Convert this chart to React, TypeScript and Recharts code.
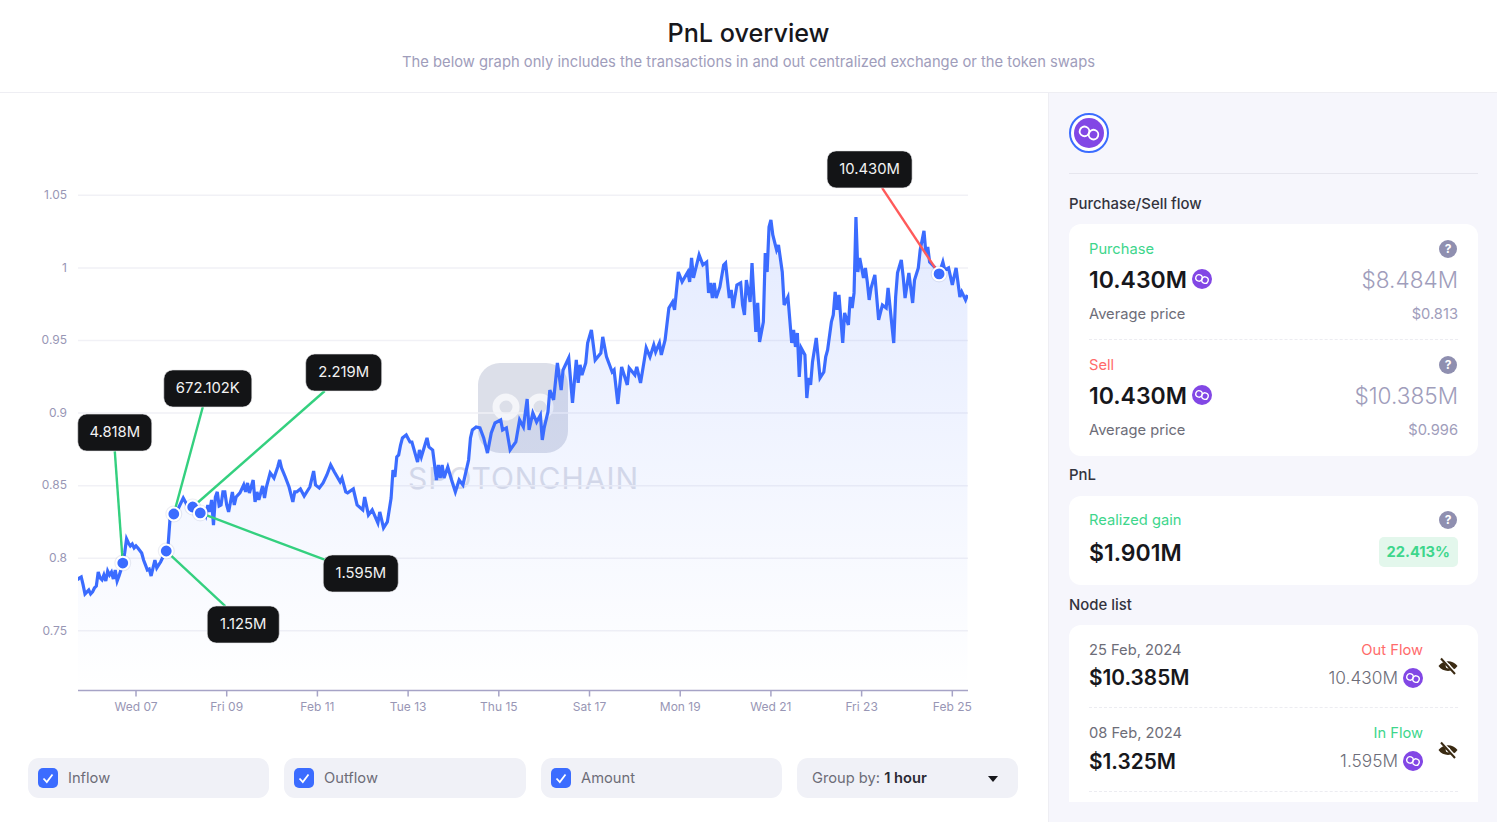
import { Area, CartesianGrid, ComposedChart, ReferenceDot, XAxis, YAxis } from 'recharts';

// hours counted from Wed 07 00:00, one entry per turning point
const hours = [
  -31, -30, -29, -28, -27, -25, -24, -23, -22, -21, -20, -19, -18, -17, -16, -15, -14, -13, -12, -11, -10, -9, -8, -7, -6, -5, -4, -3, -2, -1,
  0, 1, 3, 4, 5, 6, 7, 8, 9, 10, 11, 12, 13, 14, 15, 16, 17, 18, 19, 20, 22, 24, 25, 27, 30, 32, 34, 36, 37, 38,
  39, 40, 41, 42, 43, 44, 45, 46, 47, 48, 49, 51, 52, 53, 55, 57, 58, 59, 60, 62, 63, 64, 65, 67, 68, 69, 71, 73, 75, 76,
  77, 79, 81, 83, 84, 85, 87, 89, 92, 94, 95, 97, 99, 101, 103, 105, 108, 109, 111, 112, 115, 117, 120, 121, 123, 125, 128, 129, 131, 133,
  134, 135, 136, 137, 138, 139, 140, 141, 143, 145, 146, 149, 150, 151, 154, 155, 157, 159, 160, 161, 162, 163, 165, 167, 169, 171, 173, 176, 177, 178,
  180, 182, 184, 186, 188, 190, 193, 194, 196, 198, 201, 203, 205, 207, 208, 210, 212, 214, 215, 216, 218, 219, 221, 223, 225, 226, 229, 231, 233, 234,
  235, 236, 238, 239, 241, 243, 246, 247, 249, 252, 253, 255, 257, 260, 261, 264, 265, 267, 269, 270, 272, 274, 275, 277, 278, 280, 282, 284, 285, 287,
  289, 292, 293, 294, 295, 298, 300, 302, 303, 304, 305, 306, 307, 309, 311, 312, 314, 315, 316, 318, 320, 321, 322, 323, 325, 326, 328, 329, 330, 332,
  333, 334, 335, 336, 337, 339, 340, 342, 343, 345, 347, 348, 349, 350, 351, 352, 354, 355, 356, 357, 358, 360, 362, 364, 365, 366, 368, 369, 370, 371,
  372, 374, 375, 377, 378, 379, 380, 381, 382, 383, 385, 386, 387, 388, 389, 391, 393, 395, 397, 398, 401, 402, 403, 405, 406, 407, 409, 411, 412, 414,
  415, 417, 418, 419, 420, 423, 425, 427, 428, 430, 432, 434, 436, 437, 439, 440,
];

const prices = [
  0.7851, 0.7864, 0.7871, 0.7816, 0.7754, 0.7781, 0.7754, 0.7768, 0.7795, 0.7809, 0.7905, 0.7864, 0.7851, 0.7885, 0.7843, 0.7912, 0.7885, 0.7905, 0.7857, 0.7919, 0.7843, 0.7878, 0.7919, 0.7967, 0.8036, 0.8133, 0.8105, 0.8085, 0.8098, 0.8071,
  0.8085, 0.8071, 0.8036, 0.7988, 0.7954, 0.7919, 0.7926, 0.7878, 0.7933, 0.7988, 0.7933, 0.7954, 0.7974, 0.8002, 0.8029, 0.805, 0.8091, 0.8271, 0.8298, 0.8305, 0.8333, 0.8388, 0.8415, 0.8367, 0.8353, 0.8346, 0.8312, 0.8333, 0.8298, 0.8367,
  0.8319, 0.8402, 0.8229, 0.8422, 0.8457, 0.836, 0.8367, 0.8457, 0.8457, 0.8367, 0.8319, 0.8457, 0.8367, 0.8422, 0.845, 0.8505, 0.8457, 0.8519, 0.845, 0.8539, 0.8388, 0.8457, 0.8402, 0.8498, 0.8415, 0.8491, 0.8588, 0.8553, 0.8629, 0.8677,
  0.8622, 0.856, 0.8491, 0.8388, 0.8457, 0.8457, 0.8477, 0.8429, 0.8491, 0.8601, 0.8505, 0.8484, 0.8519, 0.8574, 0.8643, 0.8594, 0.8526, 0.8553, 0.8457, 0.845, 0.8477, 0.8367, 0.8333, 0.8422, 0.8298, 0.8333, 0.8243, 0.8319, 0.8209, 0.825,
  0.8333, 0.8415, 0.8608, 0.856, 0.8698, 0.8712, 0.878, 0.8829, 0.8849, 0.8801, 0.8801, 0.8663, 0.8746, 0.8698, 0.8829, 0.8767, 0.8746, 0.8539, 0.8643, 0.8553, 0.8643, 0.8553, 0.8629, 0.8539, 0.8457, 0.8539, 0.8505, 0.8677, 0.8829, 0.8884,
  0.8905, 0.8898, 0.8829, 0.8725, 0.8863, 0.8932, 0.8953, 0.8884, 0.8898, 0.8746, 0.8801, 0.8953, 0.8905, 0.9097, 0.8884, 0.9001, 0.8939, 0.8987, 0.8815, 0.8898, 0.9008, 0.9159, 0.9091, 0.9345, 0.9159, 0.9297, 0.938, 0.907, 0.9366, 0.9208,
  0.9332, 0.9263, 0.9345, 0.9483, 0.9573, 0.9366, 0.9414, 0.9525, 0.9387, 0.9283, 0.9297, 0.9063, 0.9318, 0.9194, 0.9311, 0.9263, 0.9318, 0.9208, 0.9366, 0.9449, 0.9387, 0.9469, 0.9421, 0.9483, 0.9401, 0.9504, 0.9724, 0.9766, 0.9711, 0.9972,
  0.9904, 0.9972, 0.9904, 1.0069, 0.9931, 1.009, 1.0021, 1.0041, 0.9828, 0.9897, 0.9793, 0.9897, 0.9793, 0.9869, 1.0021, 1.0034, 0.9793, 0.9848, 0.9724, 0.9883, 0.9897, 0.9745, 0.9676, 0.9917, 0.9766, 1.0034, 0.9559, 0.9759, 0.949, 0.9628,
  1.0103, 0.9972, 1.0282, 1.0331, 1.0227, 1.0124, 1.0158, 0.9972, 0.9745, 0.98, 0.9483, 0.9573, 0.9456, 0.9552, 0.9249, 0.9449, 0.9401, 0.9104, 0.9242, 0.9194, 0.9352, 0.9518, 0.9242, 0.9283, 0.9387, 0.9435, 0.9628, 0.9676, 0.9835, 0.9711,
  0.9814, 0.9483, 0.969, 0.9607, 0.98, 0.9724, 0.9828, 1.0351, 0.9972, 1.0069, 0.9931, 1.0, 0.9904, 0.978, 0.9862, 0.9952, 0.9642, 0.9745, 0.9724, 0.9862, 0.9483, 0.98, 0.9966, 1.0055, 0.9938, 0.9793, 0.9966, 0.9759, 0.9917, 1.0,
  1.0124, 1.0255, 1.0103, 1.0145, 1.0041, 1.0, 0.9959, 1.0041, 0.9986, 1.0, 0.9883, 1.0, 0.98, 0.9835, 0.978, 0.9814,
];

const yTicks = [0.75, 0.8, 0.85, 0.9, 0.95, 1, 1.05];
const xTicks = [0, 48, 96, 144, 192, 240, 288, 336, 384, 432];
const xTickLabels = ['Wed 07', 'Fri 09', 'Feb 11', 'Tue 13', 'Thu 15', 'Sat 17', 'Mon 19', 'Wed 21', 'Fri 23', 'Feb 25'];

const nodeHours = [-7, 16, 20, 30, 34, 425];
const nodeAmounts = ['4.818M', '1.125M', '672.102K', '2.219M', '1.595M', '10.430M'];

// box offset from the dot, box width, and where the leader meets the box
const callouts = [
  { bx: -45, by: -149, w: 74, lx: -8, ly: -112, color: '#34d07f' },
  { bx: 41, by: 55, w: 72, lx: 59, ly: 55, color: '#34d07f' },
  { bx: -10, by: -144, w: 88, lx: 29, ly: -107, color: '#34d07f' },
  { bx: 113, by: -153, w: 76, lx: 132, ly: -116, color: '#34d07f' },
  { bx: 123, by: 42, w: 75, lx: 125, ly: 47, color: '#34d07f' },
  { bx: -112, by: -123, w: 85, lx: -57, ly: -86, color: '#ff5a5a' },
];

const chartData = hours.map((hour, i) => ({ hour, price: prices[i] }));

const FONT = 'Inter, sans-serif';
const MUTED = '#a09dbb';
const AXIS = '#9896b5';
const GREY = '#6d6d78';
const INK = '#17171c';

function NodeShape({ cx, cy, index }: any) {
  const c = callouts[index];
  return (
    <g>
      <line x1={cx} y1={cy} x2={cx + c.lx} y2={cy + c.ly} stroke={c.color} strokeWidth={2.4} />
      <rect x={cx + c.bx} y={cy + c.by} width={c.w} height={37} rx={9} fill="#131416" stroke="#e6e6ea" strokeWidth={0.6} />
      <text
        x={cx + c.bx + c.w / 2}
        y={cy + c.by + 18}
        textAnchor="middle"
        dominantBaseline="central"
        fontFamily={FONT}
        fontSize={14.8}
        fill="#f2f2f2"
      >
        {nodeAmounts[index]}
      </text>
      <circle cx={cx} cy={cy} r={8.5} fill="#1b2a66" fillOpacity={0.08} />
      <circle cx={cx} cy={cy} r={6.4} fill="#3b6cff" stroke="#fff" strokeWidth={2} />
    </g>
  );
}

function Txt({ x, y, right, size = 14.7, color = GREY, weight = 400, children }: any) {
  const pos = right !== undefined ? { right: 1497 - right } : { left: x };
  return (
    <div
      style={{
        position: 'absolute',
        top: y,
        transform: 'translateY(-50%)',
        whiteSpace: 'nowrap',
        fontSize: size,
        color,
        fontWeight: weight,
        lineHeight: 1,
        ...pos,
      }}
    >
      {children}
    </div>
  );
}

function Box({ x, y, w, h, bg = '#fff', radius = 12, extra }: any) {
  return <div style={{ position: 'absolute', left: x, top: y, width: w, height: h, background: bg, borderRadius: radius, ...extra }} />;
}

function TokenIcon({ x, y, r = 10 }: any) {
  return (
    <svg style={{ position: 'absolute', left: x - r, top: y - r }} width={r * 2} height={r * 2} viewBox="0 0 20 20">
      <circle cx={10} cy={10} r={10} fill="#8247e5" />
      <g fill="none" stroke="#fff" strokeWidth={1.4} transform="rotate(20 10 10)">
        <circle cx={6.8} cy={10} r={3.2} />
        <circle cx={13.2} cy={10} r={3.2} />
      </g>
    </svg>
  );
}

function HelpIcon({ x, y }: any) {
  return (
    <div
      style={{
        position: 'absolute',
        left: x - 9,
        top: y - 9,
        width: 18,
        height: 18,
        borderRadius: 9,
        background: '#8f8fb0',
        color: '#fff',
        fontSize: 12,
        fontWeight: 700,
        lineHeight: '18px',
        textAlign: 'center',
      }}
    >
      ?
    </div>
  );
}

function EyeOff({ x, y }: any) {
  return (
    <svg style={{ position: 'absolute', left: x - 10, top: y - 10 }} width={20} height={20} viewBox="0 0 20 20">
      <path d="M0.5 10 C5 3.5 15 3.5 19.5 10 C15 16.5 5 16.5 0.5 10 Z" fill="#3a2a12" />
      <circle cx={10} cy={10} r={2.4} fill="#fff" />
      <line x1={4} y1={2.5} x2={17} y2={16.5} stroke="#fff" strokeWidth={3.2} />
      <line x1={3} y1={2.5} x2={17} y2={18} stroke="#3a2a12" strokeWidth={2} />
    </svg>
  );
}

function Dashed({ y }: any) {
  return <div style={{ position: 'absolute', left: 1089, top: y, width: 369, borderTop: '1px dashed #ececf1' }} />;
}

function Toggle({ x, w, label }: any) {
  return (
    <>
      <Box x={x} y={758} w={w} h={40} bg="#f0f1f7" radius={11} />
      <svg style={{ position: 'absolute', left: x + 10, top: 768 }} width={20} height={20} viewBox="0 0 20 20">
        <rect width={20} height={20} rx={5} fill="#3b6cff" />
        <path d="M5.5 10.5 L8.8 14 L14.5 6.5" fill="none" stroke="#fff" strokeWidth={1.8} />
      </svg>
      <Txt x={x + 40} y={778}>
        {label}
      </Txt>
    </>
  );
}

function Watermark() {
  return (
    <>
      <svg style={{ position: 'absolute', left: 478, top: 363 }} width={90} height={90}>
        <rect width={90} height={90} rx={22} fill="#dcdfe9" />
        <g fill="none" stroke="#f4f5f9" strokeWidth={7}>
          <circle cx={28} cy={44} r={10} />
          <circle cx={62} cy={44} r={10} />
        </g>
      </svg>
      <div
        style={{
          position: 'absolute',
          left: 408,
          top: 478,
          transform: 'translateY(-50%)',
          fontSize: 30,
          letterSpacing: 1,
          lineHeight: 1,
          color: '#dcdee8',
          whiteSpace: 'nowrap',
        }}
      >
        SPOTONCHAIN
      </div>
    </>
  );
}

export default function App() {
  return (
    <div style={{ position: 'fixed', left: 0, top: 0, width: 1497, height: 822, background: '#fff', fontFamily: FONT, overflow: 'hidden' }}>
      <div style={{ position: 'absolute', left: 0, top: 34, width: 1497, textAlign: 'center', transform: 'translateY(-50%)', fontSize: 25.2, fontWeight: 500, color: INK, lineHeight: 1 }}>
        PnL overview
      </div>
      <div style={{ position: 'absolute', left: 0, top: 62, width: 1497, textAlign: 'center', transform: 'translateY(-50%)', fontSize: 14.75, color: MUTED, lineHeight: 1 }}>
        The below graph only includes the transactions in and out centralized exchange or the token swaps
      </div>
      <div style={{ position: 'absolute', left: 0, top: 92, width: 1497, borderTop: '1px solid #eeeef3' }} />

      <Watermark />

      <div style={{ position: 'absolute', left: 0, top: 0 }}>
        <ComposedChart width={1048} height={730} data={chartData} margin={{ top: 100, right: 80, bottom: 0, left: 0 }}>
          <defs>
            <linearGradient id="priceFill" x1="0" x2="0" y1="0" y2="1">
              <stop offset="0%" stopColor="#3b6cff" stopOpacity={0.14} />
              <stop offset="100%" stopColor="#3b6cff" stopOpacity={0} />
            </linearGradient>
          </defs>
          <CartesianGrid vertical={false} stroke="#f1f1f6" strokeWidth={1.5} syncWithTicks />
          <XAxis
            dataKey="hour"
            type="number"
            domain={[-30.7, 440.3]}
            ticks={xTicks}
            interval={0}
            height={39.5}
            allowDataOverflow
            tickMargin={6}
            tickFormatter={(v: number) => xTickLabels[xTicks.indexOf(v)]}
            tick={{ fontSize: 12, fill: AXIS, fontFamily: FONT }}
            stroke="#a6a3c6"
            strokeWidth={1.5}
          />
          <YAxis
            type="number"
            width={78}
            domain={[0.7089, 1.1157]}
            ticks={yTicks}
            interval={0}
            allowDataOverflow
            axisLine={false}
            tickLine={false}
            tickMargin={5}
            tick={{ fontSize: 12, fill: AXIS, fontFamily: FONT, dy: -0.5 }}
          />
          <Area
            dataKey="price"
            type="linear"
            stroke="#3b6cff"
            strokeWidth={3.2}
            fill="url(#priceFill)"
            fillOpacity={1}
            dot={false}
            activeDot={false}
            isAnimationActive={false}
          />
          {nodeHours.map((hour, i) => (
            <ReferenceDot
              key={hour}
              x={hour}
              y={prices[hours.indexOf(hour)]}
              shape={(props: any) => <NodeShape {...props} index={i} />}
            />
          ))}
        </ComposedChart>
      </div>

      <Toggle x={28} w={241} label="Inflow" />
      <Toggle x={284} w={242} label="Outflow" />
      <Toggle x={541} w={241} label="Amount" />
      <Box x={797} y={758} w={221} h={40} bg="#f0f1f7" radius={11} />
      <Txt x={812} y={778}>
        Group by: <span style={{ fontWeight: 600, color: '#2a2a33' }}>1 hour</span>
      </Txt>
      <svg style={{ position: 'absolute', left: 988, top: 776 }} width={10} height={6}>
        <path d="M0 0 H10 L5 6 Z" fill="#17171c" />
      </svg>

      {/* side panel */}
      <Box x={1048} y={93} w={449} h={729} bg="#f6f6fc" radius={0} extra={{ borderLeft: '1px solid #eeeef3', boxSizing: 'border-box' }} />
      <svg style={{ position: 'absolute', left: 1069, top: 113 }} width={40} height={40} viewBox="0 0 40 40">
        <circle cx={20} cy={20} r={19} fill="#fff" stroke="#3b6cff" strokeWidth={2} />
        <circle cx={20} cy={20} r={15} fill="#8247e5" />
        <g fill="none" stroke="#fff" strokeWidth={1.9} transform="rotate(20 20 20)">
          <circle cx={15.2} cy={20} r={4.8} />
          <circle cx={24.8} cy={20} r={4.8} />
        </g>
      </svg>
      <div style={{ position: 'absolute', left: 1069, top: 173, width: 409, borderTop: '1px solid #e6e6ee' }} />

      <Txt x={1069} y={204} size={14.9} color="#33333d" weight={500}>
        Purchase/Sell flow
      </Txt>
      <Box x={1069} y={224} w={409} h={232} />
      <Txt x={1089} y={249} color="#3ed68c">
        Purchase
      </Txt>
      <HelpIcon x={1448} y={249} />
      <Txt x={1089} y={280} size={23} color={INK} weight={600}>
        10.430M
      </Txt>
      <TokenIcon x={1202} y={279} />
      <Txt right={1458} y={280} size={22.6} color={MUTED} weight={300}>
        $8.484M
      </Txt>
      <Txt x={1089} y={314}>
        Average price
      </Txt>
      <Txt right={1458} y={314} color={MUTED}>
        $0.813
      </Txt>
      <Dashed y={339} />
      <Txt x={1089} y={365} color="#ff6b6b">
        Sell
      </Txt>
      <HelpIcon x={1448} y={365} />
      <Txt x={1089} y={396} size={23} color={INK} weight={600}>
        10.430M
      </Txt>
      <TokenIcon x={1202} y={395} />
      <Txt right={1458} y={396} size={22.6} color={MUTED} weight={300}>
        $10.385M
      </Txt>
      <Txt x={1089} y={430}>
        Average price
      </Txt>
      <Txt right={1458} y={430} color={MUTED}>
        $0.996
      </Txt>

      <Txt x={1069} y={475} size={14.9} color="#33333d" weight={500}>
        PnL
      </Txt>
      <Box x={1069} y={496} w={409} h={89} />
      <Txt x={1089} y={520} color="#3ed68c">
        Realized gain
      </Txt>
      <HelpIcon x={1448} y={520} />
      <Txt x={1089} y={553} size={23} color={INK} weight={600}>
        $1.901M
      </Txt>
      <Box x={1379} y={537} w={79} h={30} bg="#e3f7ec" radius={5} />
      <Txt right={1450} y={552} size={14.7} color="#3ed68c" weight={700}>
        22.413%
      </Txt>

      <Txt x={1069} y={605} size={14.9} color="#33333d" weight={500}>
        Node list
      </Txt>
      <Box x={1069} y={625} w={409} h={177} extra={{ borderRadius: '12px 12px 0 0' }} />
      <Txt x={1089} y={650}>
        25 Feb, 2024
      </Txt>
      <Txt x={1089} y={678} size={20.8} color={INK} weight={600}>
        $10.385M
      </Txt>
      <Txt right={1423} y={650} color="#ff6b6b">
        Out Flow
      </Txt>
      <Txt right={1398} y={678} size={17.3} weight={300}>
        10.430M
      </Txt>
      <TokenIcon x={1413} y={678} />
      <EyeOff x={1448} y={666} />
      <Dashed y={707} />
      <Txt x={1089} y={733}>
        08 Feb, 2024
      </Txt>
      <Txt x={1089} y={762} size={20.8} color={INK} weight={600}>
        $1.325M
      </Txt>
      <Txt right={1423} y={733} color="#3ed68c">
        In Flow
      </Txt>
      <Txt right={1398} y={761} size={17.3} weight={300}>
        1.595M
      </Txt>
      <TokenIcon x={1413} y={761} />
      <EyeOff x={1448} y={750} />
      <Dashed y={791} />
    </div>
  );
}
